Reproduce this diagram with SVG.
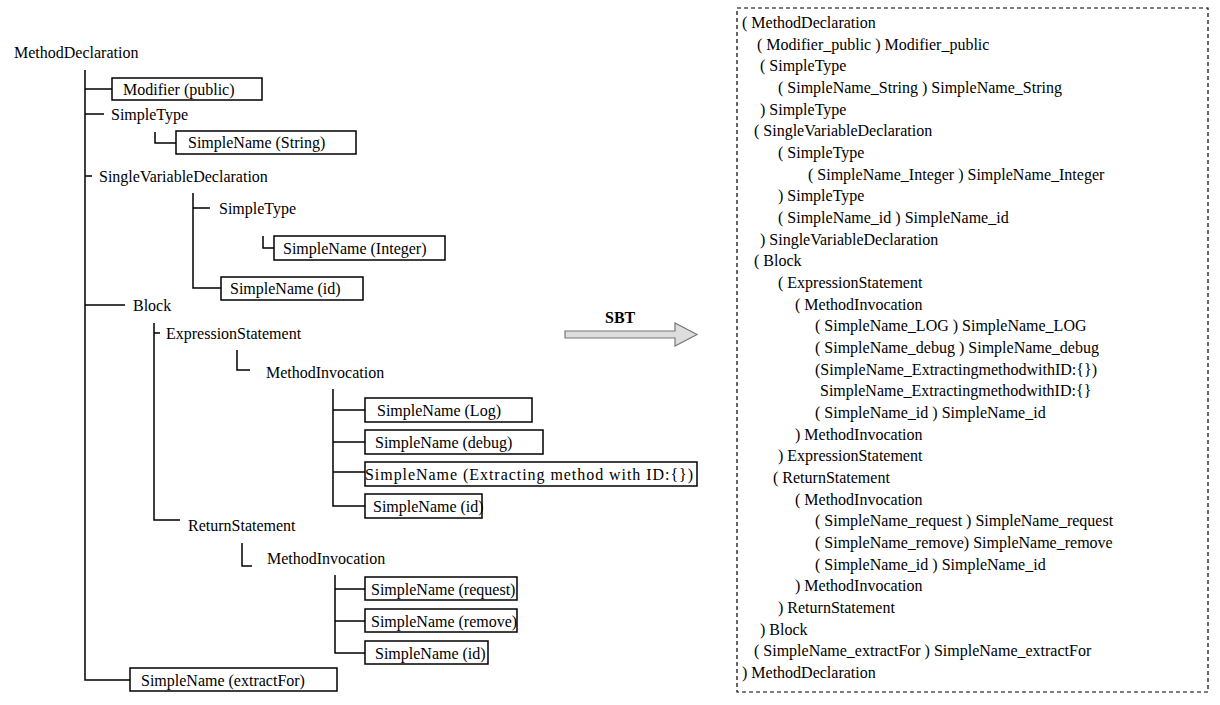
<svg xmlns="http://www.w3.org/2000/svg" width="1220" height="705" viewBox="0 0 1220 705">
<style>
text{font-family:"Liberation Serif","Times New Roman",serif;font-size:16px;fill:#000}
.b{fill:#fff;stroke:#000;stroke-width:1.5}
.c{fill:none;stroke:#000;stroke-width:1.5}
</style>
<rect width="1220" height="705" fill="#fff"/>
<g id="connectors">
<path class="c" d="M85 70V680H130M85 89H112M85 114H104M85 176H92M85 305H125"/>
<path class="c" d="M155 132V143H176"/>
<path class="c" d="M193 193V288H221M193 208H210M263 236V248H274"/>
<path class="c" d="M154 323V520H180M154 333H160"/>
<path class="c" d="M237 350V370H250M333 389V506H365M333 410H365M333 442H365M333 472H365"/>
<path class="c" d="M242 543V566H252M335 575V653H365M335 589H365M335 621H365"/>
</g>
<g id="n-md"><text x="14" y="58">MethodDeclaration</text></g>
<g id="n-mod"><rect class="b" x="112" y="78" width="150" height="22"/><text x="123" y="95">Modifier (public)</text></g>
<g id="n-st1"><text x="111" y="120">SimpleType</text></g>
<g id="n-sn-string"><rect class="b" x="176" y="131" width="180" height="23"/><text x="188" y="148">SimpleName (String)</text></g>
<g id="n-svd"><text x="99" y="182">SingleVariableDeclaration</text></g>
<g id="n-st2"><text x="219" y="214">SimpleType</text></g>
<g id="n-sn-int"><rect class="b" x="274" y="236" width="171" height="24"/><text x="283" y="254">SimpleName (Integer)</text></g>
<g id="n-sn-id1"><rect class="b" x="221" y="277" width="142" height="23"/><text x="230" y="294">SimpleName (id)</text></g>
<g id="n-block"><text x="133" y="311">Block</text></g>
<g id="n-es"><text x="166" y="339">ExpressionStatement</text></g>
<g id="n-mi1"><text x="266" y="378">MethodInvocation</text></g>
<g id="n-log"><rect class="b" x="365" y="398" width="167" height="24"/><text x="377" y="416">SimpleName (Log)</text></g>
<g id="n-debug"><rect class="b" x="365" y="430" width="178" height="24"/><text x="375" y="448">SimpleName (debug)</text></g>
<g id="n-extr"><rect class="b" x="365" y="462" width="332" height="24"/><text x="365" y="480" textLength="328">SimpleName (Extracting method with ID:{})</text></g>
<g id="n-id2"><rect class="b" x="365" y="494" width="117" height="24"/><text x="373" y="512">SimpleName (id)</text></g>
<g id="n-rs"><text x="188" y="531">ReturnStatement</text></g>
<g id="n-mi2"><text x="267" y="564">MethodInvocation</text></g>
<g id="n-req"><rect class="b" x="365" y="577" width="152" height="23"/><text x="371" y="595">SimpleName (request)</text></g>
<g id="n-rem"><rect class="b" x="365" y="609" width="152" height="23"/><text x="371" y="627">SimpleName (remove)</text></g>
<g id="n-id3"><rect class="b" x="365" y="641" width="123" height="23"/><text x="375" y="659">SimpleName (id)</text></g>
<g id="n-ef"><rect class="b" x="130" y="668" width="207" height="23"/><text x="141" y="686">SimpleName (extractFor)</text></g>
<g id="arrow">
<text x="605" y="323" style="font-weight:bold">SBT</text>
<path d="M565 331H675V323L697 334.5L675 346V338H565Z" fill="#ddd" stroke="#777" stroke-width="1.2"/>
</g>
<g id="sbt">
<rect x="737" y="8" width="471" height="684" fill="none" stroke="#000" stroke-width="1.2" stroke-dasharray="4,3"/>
<text x="742" y="28">( MethodDeclaration</text>
<text x="757" y="50">( Modifier_public ) Modifier_public</text>
<text x="760" y="71">( SimpleType</text>
<text x="778" y="93">( SimpleName_String ) SimpleName_String</text>
<text x="760" y="115">) SimpleType</text>
<text x="754" y="136">( SingleVariableDeclaration</text>
<text x="778" y="158">( SimpleType</text>
<text x="808" y="180">( SimpleName_Integer ) SimpleName_Integer</text>
<text x="778" y="201">) SimpleType</text>
<text x="778" y="223">( SimpleName_id ) SimpleName_id</text>
<text x="760" y="245">) SingleVariableDeclaration</text>
<text x="754" y="266">( Block</text>
<text x="778" y="288">( ExpressionStatement</text>
<text x="795" y="310">( MethodInvocation</text>
<text x="815" y="331">( SimpleName_LOG ) SimpleName_LOG</text>
<text x="815" y="353">( SimpleName_debug ) SimpleName_debug</text>
<text x="815" y="375">(SimpleName_ExtractingmethodwithID:{})</text>
<text x="820" y="396">SimpleName_ExtractingmethodwithID:{}</text>
<text x="815" y="418">( SimpleName_id ) SimpleName_id</text>
<text x="795" y="440">) MethodInvocation</text>
<text x="778" y="461">) ExpressionStatement</text>
<text x="773" y="483">( ReturnStatement</text>
<text x="795" y="505">( MethodInvocation</text>
<text x="815" y="526">( SimpleName_request ) SimpleName_request</text>
<text x="815" y="548">( SimpleName_remove) SimpleName_remove</text>
<text x="815" y="570">( SimpleName_id ) SimpleName_id</text>
<text x="795" y="591">) MethodInvocation</text>
<text x="778" y="613">) ReturnStatement</text>
<text x="760" y="635">) Block</text>
<text x="754" y="656">( SimpleName_extractFor ) SimpleName_extractFor</text>
<text x="742" y="678">) MethodDeclaration</text>
</g>
</svg>
